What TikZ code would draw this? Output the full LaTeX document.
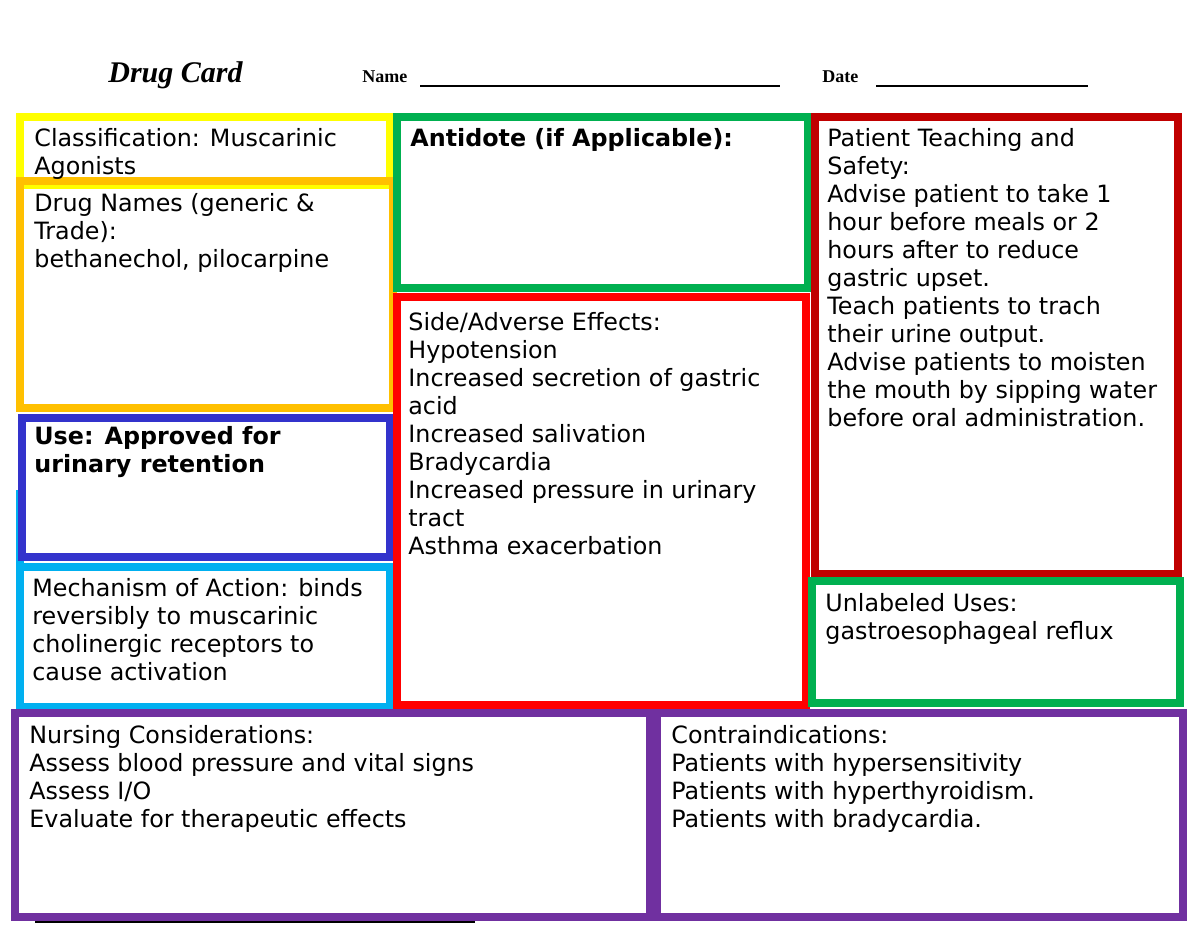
\documentclass[tikz,border=0pt]{standalone}
\usepackage{fontspec}
\setmainfont{DejaVu Sans}
\newfontfamily\tnr{Liberation Serif}
\definecolor{cyel}{HTML}{FFFF00}
\definecolor{cora}{HTML}{FFC000}
\definecolor{cblu}{HTML}{3333CC}
\definecolor{clb}{HTML}{00B0F0}
\definecolor{cgrn}{HTML}{00B050}
\definecolor{cred}{HTML}{FF0000}
\definecolor{cdr}{HTML}{C00000}
\definecolor{cpur}{HTML}{7030A0}
\begin{document}
\begin{tikzpicture}[x=0.5pt,y=-0.5pt,
  box/.style={line width=3.6pt},
  txt/.style={anchor=north west,inner sep=0pt,align=left,font=\fontsize{11.9}{14}\selectfont},
  hd/.style={anchor=base west,inner sep=0pt}]
\useasboundingbox (0,0) rectangle (1200,927);
% boxes
\draw[box,clb] (20,490) -- (20,707);
\draw[box,cyel] (20,117) rectangle (390,185);
\draw[box,cora] (20,181) rectangle (393,408);
\draw[box,cblu] (22,418) rectangle (390,557);
\draw[box,clb] (20,567) rectangle (390,707);
\draw[box,cgrn] (397,117) rectangle (808,288);
\draw[box,cred] (397,297) rectangle (806,705);
\draw[box,cdr] (815,117) rectangle (1178,574);
\draw[box,cgrn] (812,581) rectangle (1180,703);
\draw[line width=0.6pt] (35,922) -- (475,922);
\draw[box,cpur] (15,713) rectangle (650,917);
\draw[box,cpur] (657,713) rectangle (1183,917);
% header
\node[hd,font=\tnr\bfseries\itshape\fontsize{15}{17}\selectfont] (t) at (108,82) {Drug Card};
\node[hd,font=\tnr\bfseries\fontsize{9}{11}\selectfont] (nm) at (362,82) {Name};
\draw[line width=0.7pt] (420,86) -- (780,86);
\node[hd,font=\tnr\bfseries\fontsize{9}{11}\selectfont] (dt) at (822,82) {Date};
\draw[line width=0.7pt] (876,86) -- (1088,86);
% texts
\node[txt] (a) at (34,128) {Classification: Muscarinic\\Agonists};
\node[txt] (b) at (34,193) {Drug Names (generic \&\\Trade):\\bethanechol, pilocarpine};
\node[txt,font=\bfseries\fontsize{11.9}{14}\selectfont] (c) at (34,426) {Use: Approved for\\urinary retention};
\node[txt] (d) at (32,578) {Mechanism of Action: binds\\reversibly to muscarinic\\cholinergic receptors to\\cause activation};
\node[txt,font=\bfseries\fontsize{11.9}{14}\selectfont] (e) at (410,128) {Antidote (if Applicable):};
\node[txt] (f) at (408,312) {Side/Adverse Effects:\\Hypotension\\Increased secretion of gastric\\acid\\Increased salivation\\Bradycardia\\Increased pressure in urinary\\tract\\Asthma exacerbation};
\node[txt] (g) at (827,128) {Patient Teaching and\\Safety:\\Advise patient to take 1\\hour before meals or 2\\hours after to reduce\\gastric upset.\\Teach patients to trach\\their urine output.\\Advise patients to moisten\\the mouth by sipping water\\before oral administration.};
\node[txt] (h) at (825,593) {Unlabeled Uses:\\gastroesophageal reflux};
\node[txt] (i) at (29,725) {Nursing Considerations:\\Assess blood pressure and vital signs\\Assess I/O\\Evaluate for therapeutic effects};
\node[txt] (j) at (671,725) {Contraindications:\\Patients with hypersensitivity\\Patients with hyperthyroidism.\\Patients with bradycardia.};
\end{tikzpicture}
\end{document}
